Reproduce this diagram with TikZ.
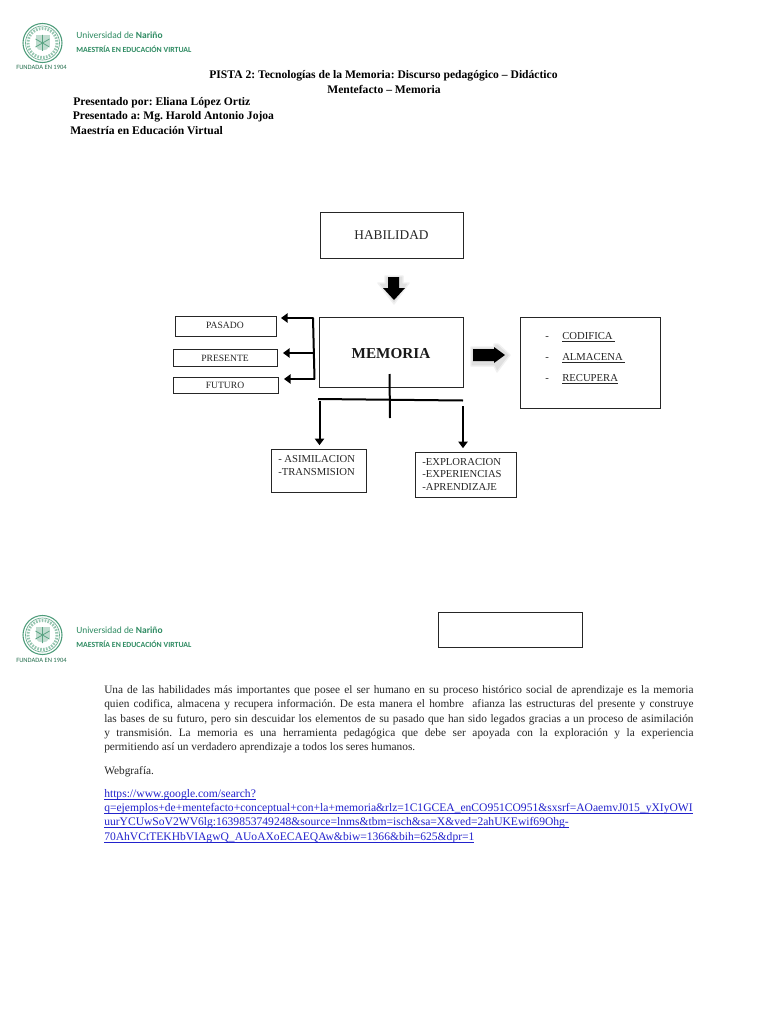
\documentclass[tikz,border=0pt]{standalone}
\usepackage{fontspec}
\setmainfont{Liberation Serif}
\newfontfamily\logofont{Carlito}
\usetikzlibrary{arrows.meta}
\definecolor{unigreen}{HTML}{2E8B62}
\definecolor{linkblue}{HTML}{2222CC}
\newcommand{\fsz}[1]{\fontsize{#1}{#1}\selectfont}
\newcommand{\jl}[1]{\hbox to 442pt{#1}}
\newcommand{\ul}[1]{\underline{\smash{#1}}}
\frenchspacing
\tikzset{
  box/.style={draw=black!85,line width=0.7pt,fill=white,inner sep=0pt},
  label/.style={inner sep=0pt,font=\fsz{7.2},text=black!85},
  head/.style={inner sep=0pt,anchor=west,font=\bfseries\fsz{8.7}},
  boxtext/.style={inner sep=0pt,anchor=base west,font=\fsz{8},text=black!85},
  conn/.style={draw=black,line width=1.5pt},
  arr/.style={conn,-{Triangle[width=7pt,length=5pt]}},
  blockshadow/.style={fill=black!12,draw=black!6,line width=1pt},
  blockarrow/.style={fill=black,draw=none},
  seal/.pic={
    \draw[unigreen!85,line width=0.8pt] (0,0) circle[radius=19.5];
    \draw[unigreen!70,line width=0.5pt] (0,0) circle[radius=17];
    \draw[unigreen!50,line width=2.2pt,dash pattern=on 1.2pt off 1pt] (0,0) circle[radius=14.5];
    \fill[unigreen!30] (-7,-8) rectangle (7,3);
    \fill[unigreen!30] (-7,3) .. controls (-5,9) and (5,9) .. (7,3) -- cycle;
    \draw[unigreen!80,line width=0.6pt] (-7,-4) -- (7,4) (-7,4) -- (7,-4) (0,-8) -- (0,8);
  }
}
\begin{document}
\begin{tikzpicture}[x=0.75pt,y=-0.75pt]
\useasboundingbox (0,0) rectangle (768,1024);
\fill[white] (0,0) rectangle (768,1024);

% top logo
\pic at (42.5,43) {seal};
\node[inner sep=0pt,anchor=west,text=unigreen,font=\logofont\fsz{7.1}] (unitop) at (76,35.5) {Universidad de \textbf{Nariño}};
\node[inner sep=0pt,anchor=west,text=unigreen,font=\logofont\bfseries\fsz{5.85}] (maetop) at (76,49) {MAESTRÍA EN EDUCACIÓN VIRTUAL};
\node[inner sep=0pt,text=unigreen!80!black,font=\logofont\fsz{4.9}] (funtop) at (41.5,67) {FUNDADA EN 1904};

% headings
\node[head,anchor=center] (t1) at (383.5,76) {PISTA 2: Tecnologías de la Memoria: Discurso pedagógico – Didáctico};
\node[head,anchor=center] (t2) at (384,89.5) {Mentefacto – Memoria};
\node[head] (p1) at (73,102.5) {Presentado por: Eliana López Ortiz};
\node[head] (p2) at (72.5,116.5) {Presentado a: Mg. Harold Antonio Jojoa};
\node[head] (p3) at (70,130.5) {Maestría en Educación Virtual};

% boxes
\node[box,minimum width=107.25pt,minimum height=34.5pt,font=\fsz{10},text=black!85] (hab) at (391.5,235) {HABILIDAD};
\node[box,minimum width=108pt,minimum height=52.5pt] (mem) at (391,352) {};
\node[inner sep=0pt,font=\bfseries\fsz{11.4},text=black!90] (memt) at (391,354) {MEMORIA};
\node[box,minimum width=105pt,minimum height=68.25pt] (cod) at (590.5,362.5) {};
\node[box,minimum width=75.75pt,minimum height=15pt] (pas) at (225.5,326) {};
\node[label] (past) at (225,325) {PASADO};
\node[box,minimum width=78pt,minimum height=12.75pt] (pre) at (225,357.5) {};
\node[label] (pret) at (225,358.5) {PRESENTE};
\node[box,minimum width=78.75pt,minimum height=12pt] (fut) at (225.5,385) {};
\node[label] (futt) at (225,385.5) {FUTURO};
\node[box,minimum width=71.25pt,minimum height=32.25pt] (asi) at (318.5,470.5) {};
\node[box,minimum width=75.75pt,minimum height=33.75pt] (exp) at (465.5,474.5) {};
\node[box,minimum width=108pt,minimum height=26.25pt] (blank) at (510,629.5) {};

% box texts
\node[boxtext] (d1) at (545,339) {-};
\node[boxtext] (d2) at (545,360.5) {-};
\node[boxtext] (d3) at (545,381) {-};
\node[boxtext] (c1) at (562,339) {\ul{CODIFICA\ }};
\node[boxtext] (c2) at (562,360.5) {\ul{ALMACENA\ }};
\node[boxtext] (c3) at (562,381) {\ul{RECUPERA}};
\node[boxtext] (a1) at (278,462) {- ASIMILACION};
\node[boxtext] (a2) at (278,475) {-TRANSMISION};
\node[boxtext] (e1) at (422,465.5) {-EXPLORACION};
\node[boxtext] (e2) at (422,477.5) {-EXPERIENCIAS};
\node[boxtext] (e3) at (422,490) {-APRENDIZAJE};

% block arrows
\fill[blockshadow,line join=round] (385,276) -- (403,276) -- (403,283) -- (409,283) -- (394,304) -- (378,283) -- (385,283) -- cycle;
\fill[blockarrow] (388,277) -- (399,277) -- (399,288) -- (405,288) -- (394,300) -- (383,288) -- (388,288) -- cycle;
\fill[blockshadow,line join=round] (471,347) -- (494,347) -- (494,344) -- (498,344) -- (510,355) -- (497,372) -- (494,366) -- (471,366) -- cycle;
\fill[blockarrow] (473,349) -- (494,349) -- (494,347) -- (505,355) -- (494,363) -- (494,361) -- (473,361) -- cycle;

% named junctions
\coordinate (ltop) at (313,318);
\coordinate (lmid) at (313.5,353);
\coordinate (lbot) at (314.5,379);
\coordinate (tipa) at (281,318);
\coordinate (tipb) at (283,353);
\coordinate (tipc) at (284,379);
\coordinate (ttop) at (389.5,374);
\coordinate (tbot) at (390,418);
\coordinate (bl) at (318,399);
\coordinate (br) at (463,400.5);
\coordinate (dl) at (319.5,401);
\coordinate (dr) at (463,406);

% connectors
\draw[conn,line cap=round] (ltop) -- (lbot);
\draw[arr] (ltop) -- (tipa);
\draw[arr] (lmid) -- (tipb);
\draw[arr] (lbot) -- (tipc);
\draw[conn] (ttop) -- (tbot);
\draw[conn] (bl) -- (br);
\draw[arr,shorten >=2.5pt] (dl) -- (dl |- asi.north);
\draw[arr,shorten >=2.5pt] (dr) -- (dr |- exp.north);

% bottom logo
\pic at (42.5,635) {seal};
\node[inner sep=0pt,anchor=west,text=unigreen,font=\logofont\fsz{7.1}] (unibot) at (76,630) {Universidad de \textbf{Nariño}};
\node[inner sep=0pt,anchor=west,text=unigreen,font=\logofont\bfseries\fsz{5.85}] (maebot) at (76,644) {MAESTRÍA EN EDUCACIÓN VIRTUAL};
\node[inner sep=0pt,text=unigreen!80!black,font=\logofont\fsz{4.9}] (funbot) at (41.5,660) {FUNDADA EN 1904};

% paragraph
\node[inner sep=0pt,anchor=north west,text=black!85,font=\fsz{8.5}] (para) at (104,685.5) {\vbox{\baselineskip=10.7pt
\jl{Una de las habilidades más importantes que posee el ser humano en su proceso histórico social de aprendizaje es la memoria}
\jl{quien codifica, almacena y recupera información. De esta manera el hombre\ \ afianza las estructuras del presente y construye}
\jl{las bases de su futuro, pero sin descuidar los elementos de su pasado que han sido legados gracias a un proceso de asimilación}
\jl{y transmisión. La memoria es una herramienta pedagógica que debe ser apoyada con la exploración y la experiencia}
\hbox{permitiendo así un verdadero aprendizaje a todos los seres humanos.}}};
\node[inner sep=0pt,anchor=west,text=black!85,font=\fsz{8.5}] (web) at (104,771.5) {Webgrafía.};
\node[inner sep=0pt,anchor=north west,text=linkblue,font=\fsz{8.68}] (link) at (104,797) {\vbox{\baselineskip=10.7pt
\hbox{\ul{https://www.google.com/search?}}
\hbox{\ul{q=ejemplos+de+mentefacto+conceptual+con+la+memoria\&rlz=1C1GCEA\_enCO951CO951\&sxsrf=AOaemvJ015\_yXIyOWI}}
\hbox{\ul{uurYCUwSoV2WV6lg:1639853749248\&source=lnms\&tbm=isch\&sa=X\&ved=2ahUKEwif69Ohg-}}
\hbox{\ul{70AhVCtTEKHbVIAgwQ\_AUoAXoECAEQAw\&biw=1366\&bih=625\&dpr=1}}}};
\end{tikzpicture}
\end{document}
